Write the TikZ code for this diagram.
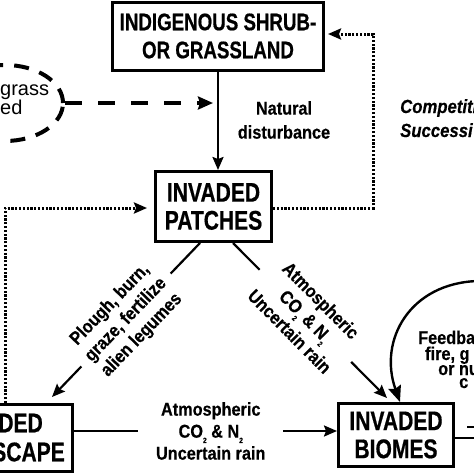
\documentclass[tikz,border=0pt]{standalone}
\usepackage{fontspec}
\setmainfont{Liberation Sans}
\newfontfamily\boxfont[FakeStretch=0.78,FakeBold=0.6]{Liberation Sans}
\newfontfamily\labfont[FakeStretch=0.88,FakeBold=0.4]{Liberation Sans}
\usetikzlibrary{arrows.meta,shapes.geometric}
% low, small index digit as in CO2 and N2
\newcommand{\lowidx}[1]{\raisebox{-0.55ex}{\fontsize{7.5}{7.5}\selectfont #1}}
\begin{document}
\begin{tikzpicture}[x=1pt,y=-1pt,
  box/.style={draw, line width=3pt, inner sep=0pt, align=center},
  bigtext/.style={font=\boxfont\bfseries\fontsize{27}{28}\selectfont},
  lab/.style={align=center, font=\labfont\bfseries\fontsize{18.5}{22}\selectfont},
  frag/.style={inner sep=0pt, font=\labfont\bfseries\fontsize{18.5}{22}\selectfont},
  conn/.style={line width=2.2pt, -{Stealth[length=13pt,width=11pt,inset=2pt]}},
  plain/.style={line width=2.2pt},
  dotconn/.style={line width=3pt, dash pattern=on 2.2pt off 1.6pt,
    -{Stealth[length=13pt,width=11pt,inset=2pt]}},
  dashconn/.style={line width=4pt, dash pattern=on 17pt off 16pt,
    -{Stealth[length=15pt,width=13pt,inset=2pt]}},
  cutlab/.style={lab, fill=white, inner xsep=10pt, inner ysep=2pt}]
\clip (0,0) rectangle (474,474);

% boxes
\node[box, minimum width=211pt, minimum height=68pt,
      font=\boxfont\bfseries\fontsize{24}{28}\selectfont] (native) at (218,36)
      {INDIGENOUS SHRUB-\\OR GRASSLAND};
\node[box, bigtext, minimum width=116pt, minimum height=70pt] (patches) at (213.5,206.5)
      {INVADED\\PATCHES};
\node[box, bigtext, minimum width=115pt, minimum height=63pt] (biomes) at (396,435)
      {INVADED\\BIOMES};
\node[box, minimum width=150pt, minimum height=67pt] (landscape) at (-2.5,438) {};
\node[bigtext, inner sep=0pt, anchor=east] (landA) at (43,423) {DED};
\node[bigtext, inner sep=0pt, anchor=east] (landB) at (65,452) {SCAPE};

% dashed source ellipse
\node[draw, ellipse, line width=4pt, dash pattern=on 15pt off 11pt,
      minimum width=116pt, minimum height=76pt] (source) at (5,103) {};
\node[inner sep=0pt, anchor=base west, font=\fontsize{20}{22}\selectfont] (srcA) at (0,95) {grass};
\node[inner sep=0pt, anchor=base west, font=\fontsize{20}{22}\selectfont] (srcB) at (0,114) {ed};
\coordinate (dashend) at (213,103);
\draw[dashconn] (source.east) -- (dashend);

% natural disturbance
\node[lab, font=\labfont\bfseries\fontsize{18.5}{24}\selectfont] (natdist) at (284,120) {Natural\\disturbance};
\draw[conn] (native.south) -- (native.south |- patches.north);

% competition / succession (cut at the edge)
\node[frag, anchor=base west, font=\labfont\bfseries\itshape\fontsize{19}{22}\selectfont] (compA) at (400,113) {Competiti};
\node[frag, anchor=base west, font=\labfont\bfseries\itshape\fontsize{19}{22}\selectfont] (compB) at (400,137) {Successi};

% dotted return paths
\coordinate (lx) at (5,300);
\draw[dotconn] (landscape.north -| lx) |- ([xshift=-7pt,yshift=-1.5pt]patches.west);
\coordinate (rx) at (373,120);
\draw[dotconn] ([yshift=-1.5pt]patches.east) -| (rx) |- ([xshift=3pt,yshift=2pt]native.east);

% diagonal drivers
\draw[conn] ([xshift=-13.5pt]patches.south) --
  node[cutlab, sloped, pos=0.5] (plough) {Plough, burn,\\graze, fertilize\\alien legumes}
  ([xshift=-22pt,yshift=6pt]landscape.north east);
\draw[conn] ([xshift=19.5pt]patches.south) --
  node[cutlab, sloped, pos=0.47] (atmA) {Atmospheric\\CO\lowidx{2} \& N\lowidx{2}\\Uncertain rain}
  ([xshift=50pt,yshift=4pt]biomes.north west);

% landscape to biomes
\draw[conn] ([yshift=7pt]landscape.east) --
  node[cutlab, pos=0.52, inner xsep=18pt] (atmB) {Atmospheric\\CO\lowidx{2} \& N\lowidx{2}\\Uncertain rain}
  ([yshift=4pt]biomes.west);

% feedback loop
\coordinate (fbstart) at (478,281);
\draw[line width=2.4pt, -{Stealth[length=16pt,width=13pt,inset=2pt]}]
  (fbstart) .. controls (410,283) and (378,340) .. ([xshift=4pt]biomes.north);
\node[frag, anchor=base west] (fbA) at (418,344) {Feedba};
\node[frag, anchor=base west] (fbB) at (425,360) {fire, g};
\node[frag, anchor=base west] (fbC) at (438,375) {or nu};
\node[frag, anchor=base west] (fbD) at (459,388) {c};

% outgoing links on the right
\coordinate (rightedge) at (480,438);
\draw[plain] ([yshift=-3pt]biomes.east) -- (rightedge);
\coordinate (tickA) at (467,427);
\coordinate (tickB) at (480,427);
\draw[plain] (tickA) -- (tickB);
\end{tikzpicture}
\end{document}
